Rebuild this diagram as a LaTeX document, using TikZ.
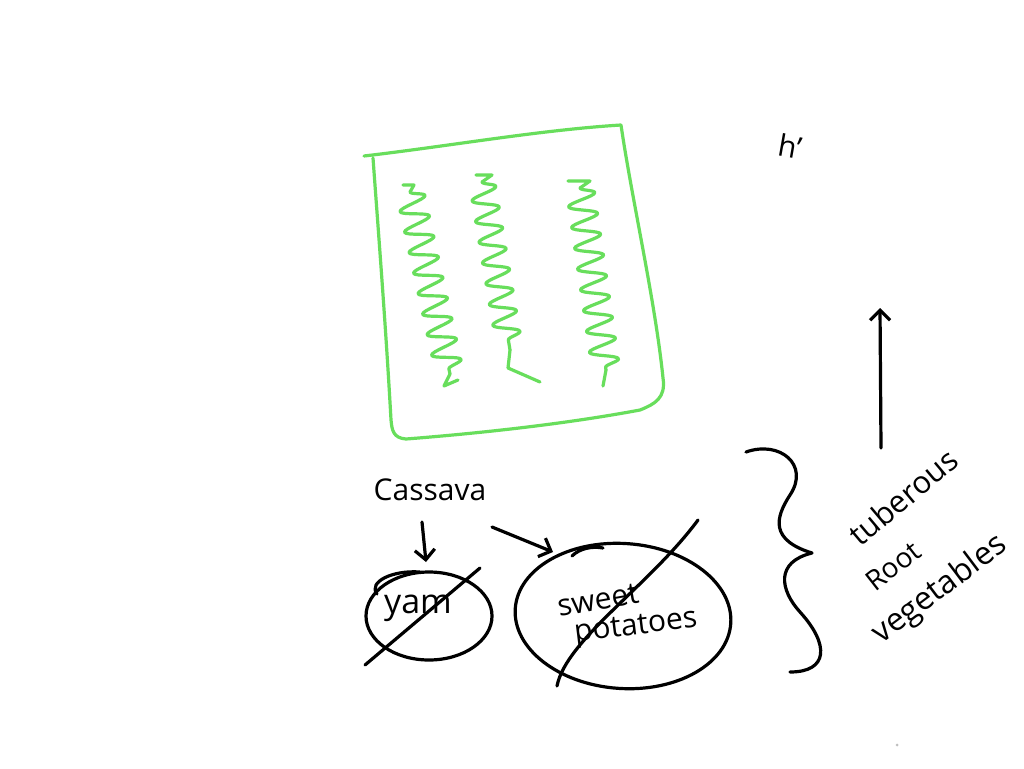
\documentclass[tikz,border=0pt]{standalone}
\usepackage{fontspec}
\setmainfont{Open Sans}
\usetikzlibrary{arrows.meta,shapes.geometric,decorations.pathmorphing}
\definecolor{sketchgreen}{RGB}{104,222,92}
\tikzset{
  ink/.style={line width=3.2pt, black, line cap=round, line join=round},
  gink/.style={line width=3.2pt, sketchgreen, line cap=round, line join=round},
  wiggle/.style={gink, decorate, decoration={snake, amplitude=#1, segment length=21pt}},
  hand/.style={inner sep=0pt, font=\fontsize{#1}{#1}\selectfont},
  barb/.style={-{Straight Barb[length=10pt,width=20pt,line width=3.2pt]}},
  blob/.style={ink, draw, ellipse, inner sep=0pt}
}
\begin{document}
\begin{tikzpicture}[x=1pt,y=-1pt]
\useasboundingbox (0,0) rectangle (1024,768);
\fill[white] (0,0) rectangle (1024,768);
% green sheet
\draw[gink] (364,156) .. controls (450,146) and (540,130) .. (621,125)
  .. controls (632,200) and (655,300) .. (663,378)
  .. controls (666,398) and (655,404) .. (640,410)
  .. controls (560,425) and (470,434) .. (406,439)
  .. controls (393,438) and (392,430) .. (391,420)
  .. controls (386,330) and (379,240) .. (373,158);
% left wiggle
\draw[gink] (403,185) -- (414,185) -- (410,192);
\draw[wiggle=14pt] (410,192) -- (450,374);
\draw[gink] (450,374) -- (444,386) -- (458,380);
% middle wiggle
\draw[gink] (476,175) -- (492,175) -- (482,182);
\draw[wiggle=13pt] (482,182) -- (510,350);
\draw[gink] (510,350) -- (508,368) -- (540,382);
% right wiggle
\draw[gink] (568,181) -- (590,181) -- (580,188);
\draw[wiggle=14pt] (580,188) -- (606,370);
\draw[gink] (606,370) -- (603,386);
% labels and blobs
\node[hand=30pt] (cassava) at (430,490) {Cassava};
\node[blob, minimum width=126pt, minimum height=88pt] (yam) at (429,616) {};
\node[hand=34pt] (yamtext) at (418,608) {yam};
\node[blob, minimum width=216pt, minimum height=145pt, rotate=-4] (sweet) at (623,616) {};
\node[hand=30pt, rotate=10] (sweettext) at (598,600) {sweet};
\node[hand=30pt, rotate=7] (potatext) at (636,628) {potatoes};
% start strokes
\draw[ink] (377,594) .. controls (368,582) and (392,570) .. (420,572);
\draw[ink] (572,556) .. controls (580,548) and (593,546) .. (603,548);
% crossings
\coordinate (y1) at (365,665); \coordinate (y2) at (480,568);
\draw[ink] (y1) -- (y2);
\coordinate (s1) at (557,686); \coordinate (s2) at (698,520);
\draw[ink] (s1) .. controls (566,640) and (650,585) .. (s2);
% arrows
\coordinate (a1) at (422,522); \coordinate (a2) at (426,562);
\draw[ink, barb] (a1) -- (a2);
\coordinate (b1) at (492,527); \coordinate (b2) at (553,552);
\draw[ink, barb] (b1) -- (b2);
% brace
\draw[ink] (746,452) .. controls (780,440) and (810,465) .. (790,495)
  .. controls (775,518) and (770,540) .. (812,553)
  .. controls (775,562) and (780,590) .. (800,612)
  .. controls (830,645) and (828,672) .. (790,672);
\node[hand=31pt, rotate=40] (tub) at (903,497) {tuberous};
\node[hand=28pt, rotate=38] (root) at (893,566) {Root};
\node[hand=32pt, rotate=37] (veg) at (940,590) {vegetables};
\coordinate (up1) at (881,448); \coordinate (up2) at (880,308);
\draw[ink, barb] (up1) -- (up2);
\node[hand=30pt, rotate=-10] (hi) at (790,146) {h'};
\fill[gray!50] (897,745) circle (1.5pt);
\end{tikzpicture}
\end{document}
